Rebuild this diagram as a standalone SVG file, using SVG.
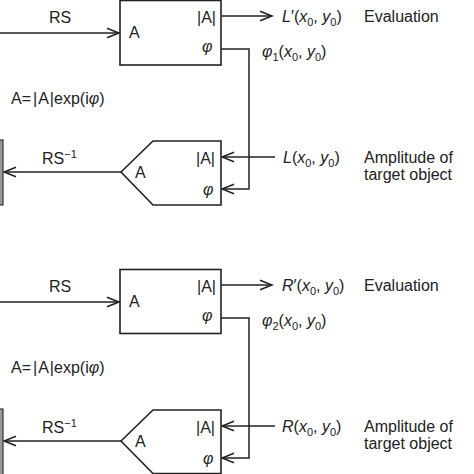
<svg xmlns="http://www.w3.org/2000/svg" width="474" height="474" viewBox="0 0 474 474">
<style>
.t{font-family:"Liberation Sans",Arial,sans-serif;font-size:16px;fill:#222}
.i{font-style:italic}
.s{font-size:11px}
.ln{fill:none;stroke:#222;stroke-width:1.5}
.box{fill:#fff;stroke:#222;stroke-width:1.6}
.bar{fill:#999;stroke:#333;stroke-width:1.2}
</style>
<defs>
<marker id="ah" markerUnits="userSpaceOnUse" markerWidth="16" markerHeight="12" viewBox="-13 -6 14 12" refX="0" refY="0" orient="auto">
<path d="M-12,-4.8 L0,0 L-12,4.8" fill="none" stroke="#222" stroke-width="1.6"/>
</marker>
</defs>

<g id="connectors">
<!-- panel 1 -->
<line class="ln" x1="0" y1="33" x2="119" y2="33" marker-end="url(#ah)"/>
<line class="ln" x1="221" y1="16" x2="272" y2="16" marker-end="url(#ah)"/>
<polyline class="ln" points="221,49 249,49 249,189 222,189" marker-end="url(#ah)"/>
<line class="ln" x1="275" y1="157" x2="222" y2="157" marker-end="url(#ah)"/>
<line class="ln" x1="121" y1="172" x2="4" y2="172" marker-end="url(#ah)"/>
<!-- panel 2 -->
<line class="ln" x1="0" y1="302" x2="119" y2="302" marker-end="url(#ah)"/>
<line class="ln" x1="221" y1="285" x2="272" y2="285" marker-end="url(#ah)"/>
<polyline class="ln" points="221,318 249,318 249,458 222,458" marker-end="url(#ah)"/>
<line class="ln" x1="275" y1="426" x2="222" y2="426" marker-end="url(#ah)"/>
<line class="ln" x1="121" y1="441" x2="4" y2="441" marker-end="url(#ah)"/>
</g>

<g id="split1">
<rect class="box" x="120" y="0.5" width="101" height="64.5"/>
<text class="t" x="129" y="38">A</text>
<text class="t" x="197" y="23">|A|</text>
<text class="t i" x="202" y="52">φ</text>
</g>

<g id="combine1">
<polygon class="box" points="121,172 153,141 221,141 221,205 153,205"/>
<text class="t" x="135" y="178">A</text>
<text class="t" x="196" y="164">|A|</text>
<text class="t i" x="203" y="195">φ</text>
</g>

<g id="target1">
<rect class="bar" x="-2" y="140" width="5" height="65"/>
</g>

<g id="split2">
<rect class="box" x="120" y="269.5" width="101" height="64"/>
<text class="t" x="129" y="307">A</text>
<text class="t" x="197" y="292">|A|</text>
<text class="t i" x="202" y="321">φ</text>
</g>

<g id="combine2">
<polygon class="box" points="121,441 153,410 221,410 221,473.5 153,473.5"/>
<text class="t" x="135" y="447">A</text>
<text class="t" x="196" y="433">|A|</text>
<text class="t i" x="203" y="464">φ</text>
</g>

<g id="target2">
<rect class="bar" x="-2" y="409" width="5" height="70"/>
</g>

<g id="labels">
<text class="t" x="49" y="23">RS</text>
<text class="t" x="42" y="164">RS<tspan class="s" dy="-6">−1</tspan></text>
<text class="t" x="11" y="104">A=<tspan dx="2">|</tspan><tspan dx="1">A</tspan><tspan dx="1">|</tspan>exp(i<tspan class="i">φ</tspan>)</text>
<text class="t" x="282" y="22"><tspan class="i">L</tspan>′(<tspan class="i">x</tspan><tspan class="s" dy="4">0</tspan><tspan dy="-4">, </tspan><tspan class="i">y</tspan><tspan class="s" dy="4">0</tspan><tspan dy="-4">)</tspan></text>
<text class="t" x="364" y="22">Evaluation</text>
<text class="t" x="262" y="57"><tspan class="i">φ</tspan><tspan class="s" dy="4">1</tspan><tspan dy="-4">(</tspan><tspan class="i">x</tspan><tspan class="s" dy="4">0</tspan><tspan dy="-4">, </tspan><tspan class="i">y</tspan><tspan class="s" dy="4">0</tspan><tspan dy="-4">)</tspan></text>
<text class="t" x="283" y="163"><tspan class="i">L</tspan>(<tspan class="i">x</tspan><tspan class="s" dy="4">0</tspan><tspan dy="-4">, </tspan><tspan class="i">y</tspan><tspan class="s" dy="4">0</tspan><tspan dy="-4">)</tspan></text>
<text class="t" x="364" y="163">Amplitude of</text>
<text class="t" x="364" y="180">target object</text>

<text class="t" x="49" y="292">RS</text>
<text class="t" x="42" y="433">RS<tspan class="s" dy="-6">−1</tspan></text>
<text class="t" x="11" y="373">A=<tspan dx="2">|</tspan><tspan dx="1">A</tspan><tspan dx="1">|</tspan>exp(i<tspan class="i">φ</tspan>)</text>
<text class="t" x="282" y="291"><tspan class="i">R</tspan>′(<tspan class="i">x</tspan><tspan class="s" dy="4">0</tspan><tspan dy="-4">, </tspan><tspan class="i">y</tspan><tspan class="s" dy="4">0</tspan><tspan dy="-4">)</tspan></text>
<text class="t" x="364" y="291">Evaluation</text>
<text class="t" x="262" y="326"><tspan class="i">φ</tspan><tspan class="s" dy="4">2</tspan><tspan dy="-4">(</tspan><tspan class="i">x</tspan><tspan class="s" dy="4">0</tspan><tspan dy="-4">, </tspan><tspan class="i">y</tspan><tspan class="s" dy="4">0</tspan><tspan dy="-4">)</tspan></text>
<text class="t" x="282" y="432"><tspan class="i">R</tspan>(<tspan class="i">x</tspan><tspan class="s" dy="4">0</tspan><tspan dy="-4">, </tspan><tspan class="i">y</tspan><tspan class="s" dy="4">0</tspan><tspan dy="-4">)</tspan></text>
<text class="t" x="364" y="432">Amplitude of</text>
<text class="t" x="364" y="449">target object</text>
</g>
</svg>
